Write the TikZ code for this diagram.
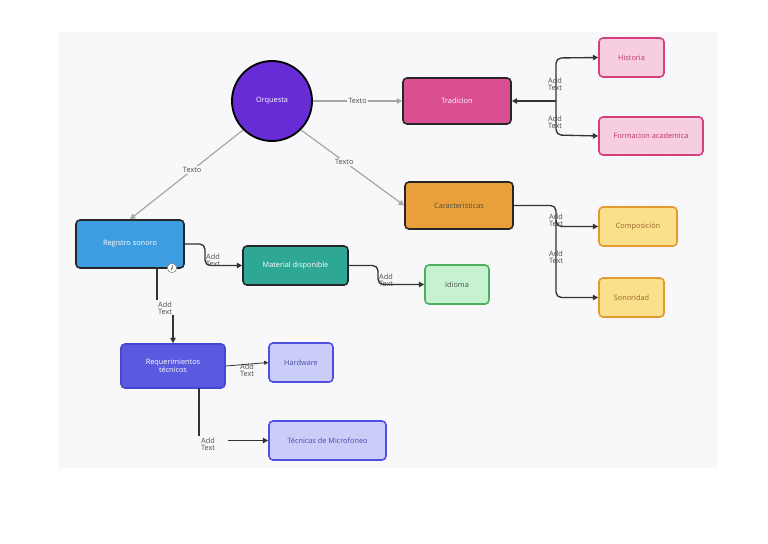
\documentclass[tikz,border=0pt]{standalone}
\usepackage{fontspec}
\setmainfont{Open Sans}
\usetikzlibrary{arrows.meta}
\definecolor{bg}{HTML}{F8F8FA}
\begin{document}
\begin{tikzpicture}[x=0.75pt,y=-0.75pt,font=\fontsize{5.5}{6}\selectfont,
  sz/.style 2 args={minimum width=#1*0.75pt,minimum height=#2*0.75pt},
  box/.style={draw,rounded corners=3pt,line width=1.2pt,inner sep=1pt,align=center},
  dk/.style={box,draw=black!85,text=white},
  lt/.style={box},
  gl/.style={draw=gray!70,line width=0.9pt,-{Triangle[length=4pt,width=4pt]}},
  bl/.style={draw=black!80,line width=1pt,rounded corners=4pt},
  ba/.style={bl,-{Triangle[length=4pt,width=4pt]}},
  lb/.style={fill=bg,inner sep=1pt,text=black!70,align=center,font=\fontsize{5.5}{6}\selectfont},
  al/.style={inner sep=0.5pt,text=black!70,align=center,font=\fontsize{5.5}{5.5}\selectfont}]
\useasboundingbox (0,0) rectangle (768,543);
\fill[white] (0,0) rectangle (768,543);
\fill[bg] (58,32) rectangle (718,468);
\foreach \i in {0,...,54}{\foreach \j in {0,...,36}{\fill[gray!40] (62+\i*12,36+\j*12) circle (0.35pt);}}
% nodes
\node[circle,draw=black,line width=1.4pt,fill={rgb,255:red,104;green,44;blue,214},text=white,minimum size=60pt,inner sep=0pt] (orq) at (272,101) {Orquesta};
\node[dk,sz={108}{46},fill={rgb,255:red,217;green,79;blue,145}] (tra) at (457,101) {Tradicion};
\node[lt,sz={65}{39},draw={rgb,255:red,212;green,64;blue,127},fill={rgb,255:red,247;green,205;blue,224},text={rgb,255:red,190;green,50;blue,110}] (his) at (631.5,57.5) {Historia};
\node[lt,sz={104}{38},draw={rgb,255:red,212;green,64;blue,127},fill={rgb,255:red,247;green,205;blue,224},text={rgb,255:red,190;green,50;blue,110}] (for) at (651,136) {Formacion academica};
\node[dk,sz={108}{47},fill={rgb,255:red,233;green,160;blue,58},text=black!70] (car) at (459,205.5) {Caracteristicas};
\node[lt,sz={78}{39},draw={rgb,255:red,229;green,154;blue,48},fill={rgb,255:red,251;green,224;blue,139},text={rgb,255:red,150;green,100;blue,40}] (com) at (638,226.5) {Composición};
\node[lt,sz={65}{39},draw={rgb,255:red,229;green,154;blue,48},fill={rgb,255:red,251;green,224;blue,139},text={rgb,255:red,150;green,100;blue,40}] (son) at (631.5,297.5) {Sonoridad};
\node[dk,sz={108}{48},fill={rgb,255:red,61;green,157;blue,224}] (reg) at (130,244) {Registro sonoro};
\node[dk,sz={105}{39},fill={rgb,255:red,46;green,168;blue,149}] (mat) at (295.5,265.5) {Material disponible};
\node[lt,sz={64}{39},draw={rgb,255:red,76;green,176;blue,95},fill={rgb,255:red,198;green,242;blue,210},text=black!70] (idi) at (457,284.5) {Idioma};
\node[box,draw={rgb,255:red,70;green,70;blue,210},sz={104}{44},fill={rgb,255:red,90;green,90;blue,224},text=white] (req) at (173,366) {Requerimientos\\técnicos};
\node[lt,sz={64}{39},draw={rgb,255:red,80;green,80;blue,224},fill={rgb,255:red,201;green,205;blue,248},text={rgb,255:red,74;green,74;blue,170}] (har) at (301,362.5) {Hardware};
\node[lt,sz={117}{39},draw={rgb,255:red,80;green,80;blue,224},fill={rgb,255:red,201;green,205;blue,248},text={rgb,255:red,74;green,74;blue,170}] (tec) at (327.5,440.5) {Técnicas de Microfoneo};
\node[circle,draw=gray,fill=white,inner sep=0pt,minimum size=7pt,font=\fontsize{5}{5}\selectfont\itshape\bfseries,text=black!70] (inf) at (172,268) {i};
% gray connectors
\draw[gl] (orq) -- node[lb]{Texto} (tra);
\draw[gl] (orq.-45) -- node[lb,pos=0.42]{Texto} (car.west);
\draw[gl] (orq.-135) -- node[lb,pos=0.45]{Texto} (reg.north);
% tradicion branch
\coordinate (tb) at (556,101);
\draw[ba] (tb) -- (tra.east);
\draw[ba] (tb) -- (556,58) -- (his.west);
\draw[ba] (tb) -- (556,135) -- (for.west);
\node[al] at (555,84) {Add\\Text};
\node[al] at (555,122) {Add\\Text};
% caracteristicas branch
\draw[ba] (car.east) -- (556,205.5) -- (556,226.5) -- (com.west);
\draw[ba] (556,220) -- (556,297.5) -- (son.west);
\node[al] at (556,220) {Add\\Text};
\node[al] at (556,257) {Add\\Text};
% registro
\draw[ba] (reg.east) -- (205,244) -- (205,265.5) -- (mat.west);
\node[al] at (213,260) {Add\\Text};
\draw[ba] (mat.east) -- (378,265.5) -- (378,284.5) -- (idi.west);
\node[al] at (386,280) {Add\\Text};
\draw[bl] (157,268) -- (157,300);
\draw[ba] (173,315) -- (req.north);
\node[al] at (165,308) {Add\\Text};
\draw[bl,line width=0.6pt,-{Triangle[length=3pt,width=3pt]}] (req.east) -- (har.west);
\node[al] at (247,370) {Add\\Text};
\draw[bl] (199,388) -- (199,436);
\node[al] at (208,444) {Add\\Text};
\draw[ba] (228,440.5) -- (tec.west);
\end{tikzpicture}
\end{document}
